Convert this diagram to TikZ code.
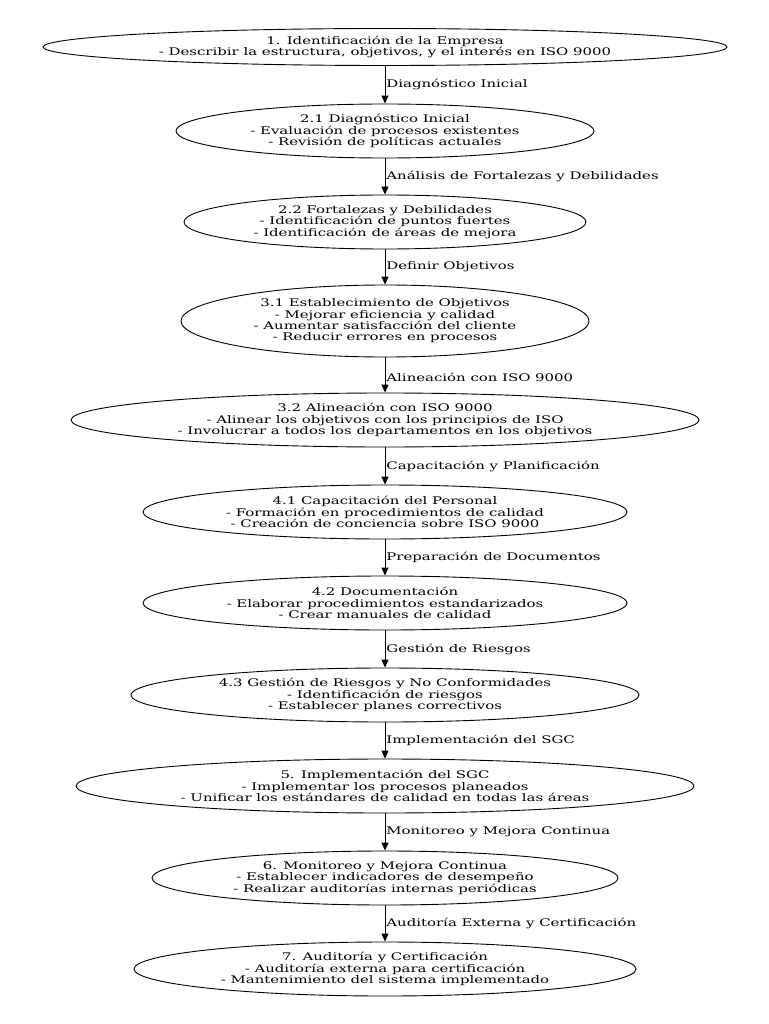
\documentclass[tikz,border=0pt]{standalone}
\usepackage{fontspec}
\setmainfont{DejaVu Serif}[FakeStretch=1.42]
\usetikzlibrary{shapes.geometric,arrows.meta}
\tikzset{
  stage/.style={draw=black, line width=0.9pt, ellipse, inner sep=0pt,
    align=center, font=\fontsize{10.5}{11.3}\selectfont},
  arr/.style={draw=black, line width=0.9pt, -{Triangle[length=8pt,width=7pt]}},
  lbl/.style={anchor=west, inner sep=1pt, font=\fontsize{10.5}{11.3}\selectfont}
}
\begin{document}
\begin{tikzpicture}[x=1pt,y=-1pt]
\useasboundingbox[fill=white] (0,0) rectangle (768,1024);
\node[stage, minimum width=684, minimum height=37] (n1) at (385,47)
  {1. Identificación de la Empresa\\- Describir la estructura, objetivos, y el interés en ISO 9000};
\node[stage, minimum width=418, minimum height=54] (n21) at (385,131)
  {2.1 Diagnóstico Inicial\\- Evaluación de procesos existentes\\- Revisión de políticas actuales};
\node[stage, minimum width=402, minimum height=54] (n22) at (385,222)
  {2.2 Fortalezas y Debilidades\\- Identificación de puntos fuertes\\- Identificación de áreas de mejora};
\node[stage, minimum width=408, minimum height=72] (n31) at (385,321)
  {3.1 Establecimiento de Objetivos\\- Mejorar eficiencia y calidad\\- Aumentar satisfacción del cliente\\- Reducir errores en procesos};
\node[stage, minimum width=628, minimum height=54] (n32) at (385,420)
  {3.2 Alineación con ISO 9000\\- Alinear los objetivos con los principios de ISO\\- Involucrar a todos los departamentos en los objetivos};
\node[stage, minimum width=484, minimum height=54] (n41) at (385,512)
  {4.1 Capacitación del Personal\\- Formación en procedimientos de calidad\\- Creación de conciencia sobre ISO 9000};
\node[stage, minimum width=484, minimum height=54] (n42) at (385,603)
  {4.2 Documentación\\- Elaborar procedimientos estandarizados\\- Crear manuales de calidad};
\node[stage, minimum width=508, minimum height=54] (n43) at (385,695)
  {4.3 Gestión de Riesgos y No Conformidades\\- Identificación de riesgos\\- Establecer planes correctivos};
\node[stage, minimum width=618, minimum height=54] (n5) at (385,786)
  {5. Implementación del SGC\\- Implementar los procesos planeados\\- Unificar los estándares de calidad en todas las áreas};
\node[stage, minimum width=466, minimum height=54] (n6) at (385,878)
  {6. Monitoreo y Mejora Continua\\- Establecer indicadores de desempeño\\- Realizar auditorías internas periódicas};
\node[stage, minimum width=502, minimum height=54] (n7) at (385,969)
  {7. Auditoría y Certificación\\- Auditoría externa para certificación\\- Mantenimiento del sistema implementado};
\draw[arr] (n1) -- node[lbl] {Diagnóstico Inicial} (n21);
\draw[arr] (n21) -- node[lbl] {Análisis de Fortalezas y Debilidades} (n22);
\draw[arr] (n22) -- node[lbl] {Definir Objetivos} (n31);
\draw[arr] (n31) -- node[lbl, yshift=-2] {Alineación con ISO 9000} (n32);
\draw[arr] (n32) -- node[lbl] {Capacitación y Planificación} (n41);
\draw[arr] (n41) -- node[lbl] {Preparación de Documentos} (n42);
\draw[arr] (n42) -- node[lbl] {Gestión de Riesgos} (n43);
\draw[arr] (n43) -- node[lbl] {Implementación del SGC} (n5);
\draw[arr] (n5) -- node[lbl] {Monitoreo y Mejora Continua} (n6);
\draw[arr] (n6) -- node[lbl] {Auditoría Externa y Certificación} (n7);
\end{tikzpicture}
\end{document}
